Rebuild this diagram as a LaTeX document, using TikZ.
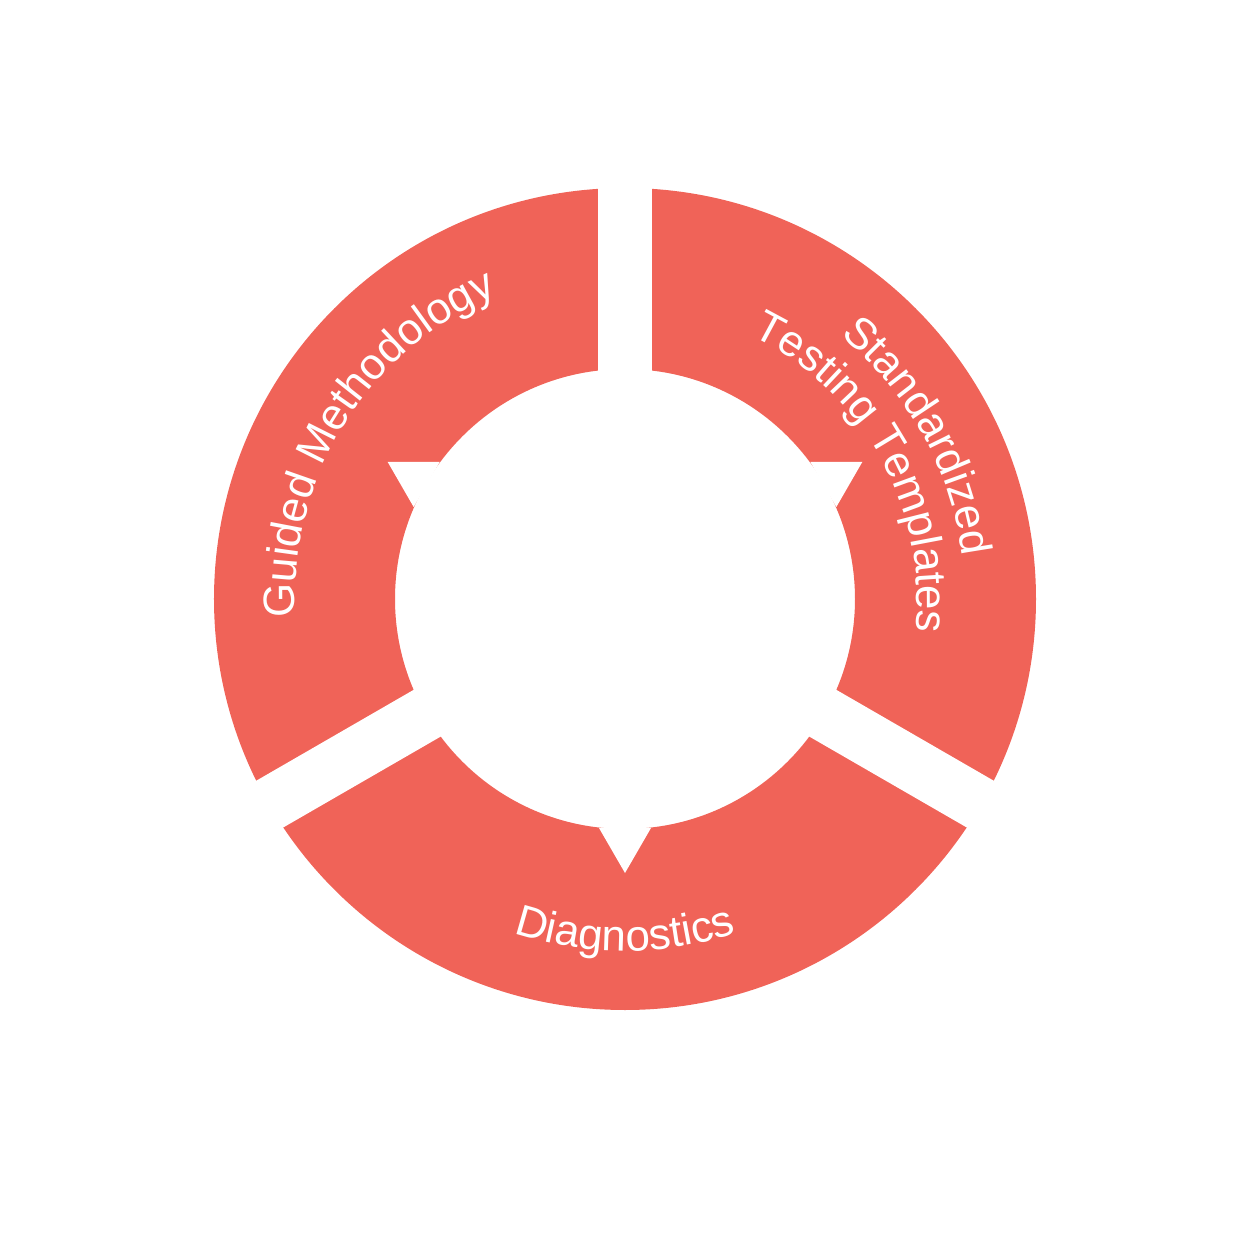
\documentclass[tikz,border=0pt]{standalone}
\usepackage{fontspec}
\setsansfont{Liberation Sans}
\usetikzlibrary{decorations.text}
\definecolor{seg}{HTML}{F06358}
\begin{document}
\begin{tikzpicture}[x=0.02cm,y=0.02cm,
  gap/.style={fill=white},
  lbl/.style={decorate,decoration={text along path,text align=center,text color=white,
    text={|\sffamily\fontsize{25}{30}\selectfont|#1}}}]
\useasboundingbox (-625,-651) rectangle (625,599);
\fill[seg,even odd rule] (0,0) circle[radius=411] (0,0) circle[radius=230];
\foreach \a in {90,210,330}{
  \fill[gap,rotate=\a] (0,-27) rectangle (460,27);
}
\foreach \a in {0,120,240}{
  \fill[white,rotate=\a] (-26,-229) -- (26,-229) -- (0,-274) -- cycle;
}
\path[lbl=Guided Methodology] (210:330) arc[start angle=210,end angle=86,radius=330];
\path[lbl=Standardized] (90:340) arc[start angle=90,end angle=-32,radius=340];
\path[lbl=Testing Templates] (90:292) arc[start angle=90,end angle=-32,radius=292];
\path[lbl=Diagnostics] (220:352) arc[start angle=220,end angle=320,radius=352];
\end{tikzpicture}
\end{document}
